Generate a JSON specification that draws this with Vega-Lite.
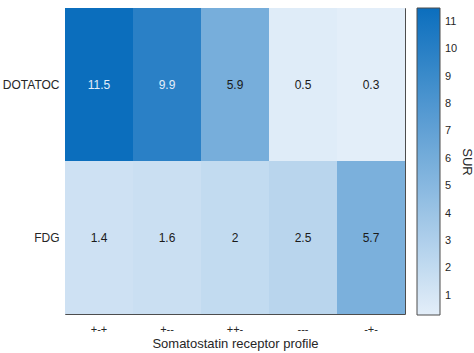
{
  "$schema": "https://vega.github.io/schema/vega-lite/v6.json",
  "width": 340,
  "height": 306,
  "autosize": {"type": "none"},
  "padding": {"left": 65, "top": 8, "right": 69, "bottom": 39},
  "background": "white",
  "config": {
    "font": "Liberation Sans",
    "view": {"stroke": "#4d4d4d", "strokeWidth": 1}
  },
  "data": {
    "values": [
      {"tracer": "DOTATOC", "profile": "+-+", "SUR": 11.5},
      {"tracer": "DOTATOC", "profile": "+--", "SUR": 9.9},
      {"tracer": "DOTATOC", "profile": "++-", "SUR": 5.9},
      {"tracer": "DOTATOC", "profile": "---", "SUR": 0.5},
      {"tracer": "DOTATOC", "profile": "-+-", "SUR": 0.3},
      {"tracer": "FDG", "profile": "+-+", "SUR": 1.4},
      {"tracer": "FDG", "profile": "+--", "SUR": 1.6},
      {"tracer": "FDG", "profile": "++-", "SUR": 2},
      {"tracer": "FDG", "profile": "---", "SUR": 2.5},
      {"tracer": "FDG", "profile": "-+-", "SUR": 5.7}
    ]
  },
  "encoding": {
    "x": {
      "field": "profile", "type": "nominal",
      "sort": ["+-+", "+--", "++-", "---", "-+-"],
      "scale": {"paddingInner": 0, "paddingOuter": 0},
      "axis": {
        "title": "Somatostatin receptor profile",
        "labelAngle": 0, "labelFontSize": 11, "labelColor": "#262626",
        "titleFontSize": 13, "titleFontWeight": "normal", "titleColor": "#262626",
        "ticks": false, "domain": false, "labelPadding": 9, "titlePadding": 3
      }
    },
    "y": {
      "field": "tracer", "type": "nominal",
      "sort": ["DOTATOC", "FDG"],
      "scale": {"paddingInner": 0, "paddingOuter": 0},
      "axis": {
        "title": null, "labelFontSize": 12, "labelColor": "#262626",
        "ticks": false, "domain": false, "labelPadding": 6
      }
    }
  },
  "layer": [
    {
      "mark": {"type": "rect"},
      "encoding": {
        "color": {
          "field": "SUR", "type": "quantitative",
          "scale": {"domain": [0.3, 11.5], "range": ["#e3eef9", "#0b6ebd"], "interpolate": "rgb"},
          "legend": {
            "type": "gradient",
            "title": "SUR",
            "titleOrient": "right",
            "titleAngle": 90,
            "titleFontSize": 13,
            "titleFontWeight": "normal",
            "titleColor": "#262626",
            "titlePadding": 3,
            "titleAnchor": "middle",
            "gradientLength": 307,
            "gradientThickness": 23,
            "gradientStrokeColor": "#4d4d4d",
            "gradientStrokeWidth": 1,
            "values": [1, 2, 3, 4, 5, 6, 7, 8, 9, 10, 11],
            "labelFontSize": 11,
            "labelColor": "#262626",
            "labelOffset": 5,
            "offset": 12,
            "padding": 0
          }
        }
      }
    },
    {
      "mark": {"type": "text", "fontSize": 12},
      "encoding": {
        "text": {"field": "SUR", "type": "quantitative"},
        "color": {
          "condition": {"test": "datum.SUR > 8", "value": "#e4eefa"},
          "value": "#1a1a1a"
        }
      }
    }
  ]
}
